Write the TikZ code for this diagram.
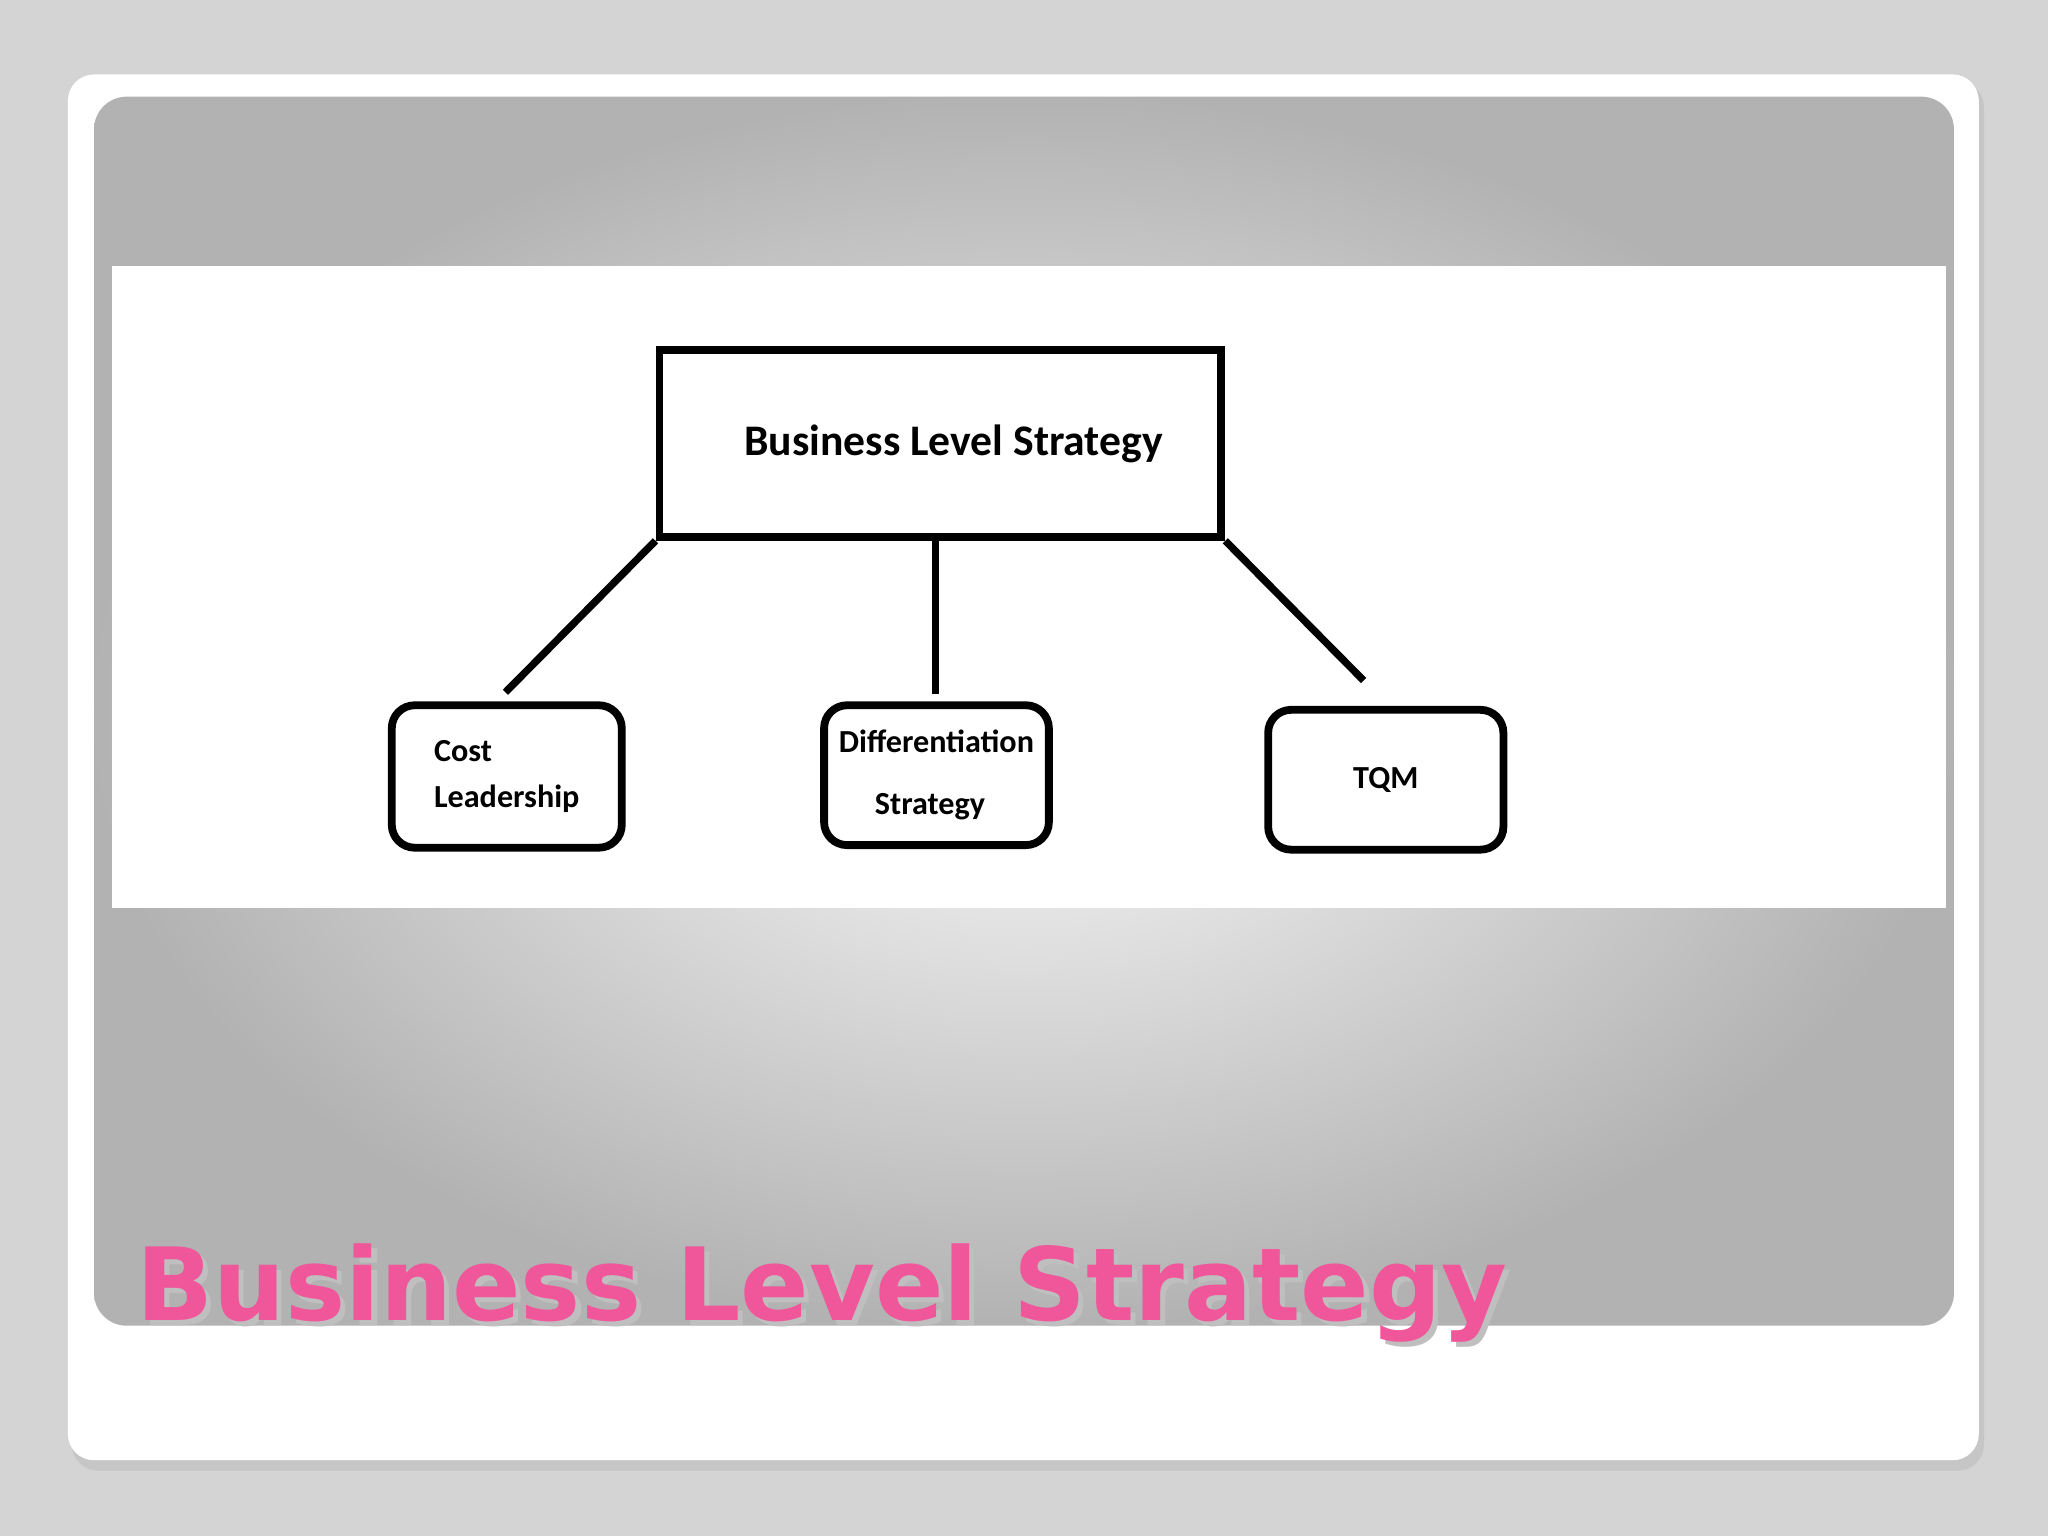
\documentclass[tikz,border=0pt]{standalone}
\usepackage{fontspec}
\setmainfont{Carlito}
\newfontfamily\titlefont{DejaVu Sans}
\definecolor{bg}{HTML}{D4D4D4}
\definecolor{pinkt}{HTML}{F0579A}
\begin{document}
\begin{tikzpicture}[x=0.01cm,y=-0.01cm,
  sub/.style={draw=black,line width=1.7pt,rounded corners=5pt,inner sep=0pt},
  conn/.style={line width=1.6pt}]
\useasboundingbox (0,0) rectangle (1568,1176);
\fill[bg] (0,0) rectangle (1568,1176);
\fill[gray!45,rounded corners=0.2cm] (55,62) rectangle (1519,1126);
\fill[white,rounded corners=0.2cm] (52,57) rectangle (1515,1118);
\shade[rounded corners=0.25cm,inner color=gray!3,outer color=gray!60] (72,74) rectangle (1496,1015);
\fill[white] (86,204) rectangle (1490,695);
\node[draw=black,line width=1.7pt,minimum width=4.3cm,minimum height=1.43cm,inner sep=0pt,font=\bfseries\fontsize{9.5}{11}\selectfont] (top) at (720,339.5) {\hspace{0.2cm}Business Level Strategy};
\node[sub,minimum width=1.76cm,minimum height=1.09cm,align=left,font=\bfseries\fontsize{7}{10}\selectfont] (cost) at (388,594.5) {Cost\hspace{1.3em}\\Leadership};
\node[sub,minimum width=1.72cm,minimum height=1.07cm,align=center,font=\bfseries\fontsize{7}{13.5}\selectfont] (diff) at (717,593.5) {Differentiation\\\hspace{-0.1cm}Strategy};
\node[sub,minimum width=1.80cm,minimum height=1.07cm,font=\bfseries\fontsize{7}{9}\selectfont] (tqm) at (1061,597) {TQM};
\coordinate (c1) at (387,530);
\coordinate (c2) at (716,531);
\coordinate (c3) at (1044,521);
\draw[conn] (top.south west) -- (c1);
\draw[conn] (top.south -| c2) -- (c2);
\draw[conn] (top.south east) -- (c3);
\node[anchor=base west,inner sep=0pt,text=gray!50,font=\titlefont\bfseries\fontsize{22}{26}\selectfont] at (108,1015) {Business Level Strategy};
\node[anchor=base west,inner sep=0pt,text=pinkt,font=\titlefont\bfseries\fontsize{22}{26}\selectfont] (title) at (104,1011) {Business Level Strategy};
\end{tikzpicture}
\end{document}
